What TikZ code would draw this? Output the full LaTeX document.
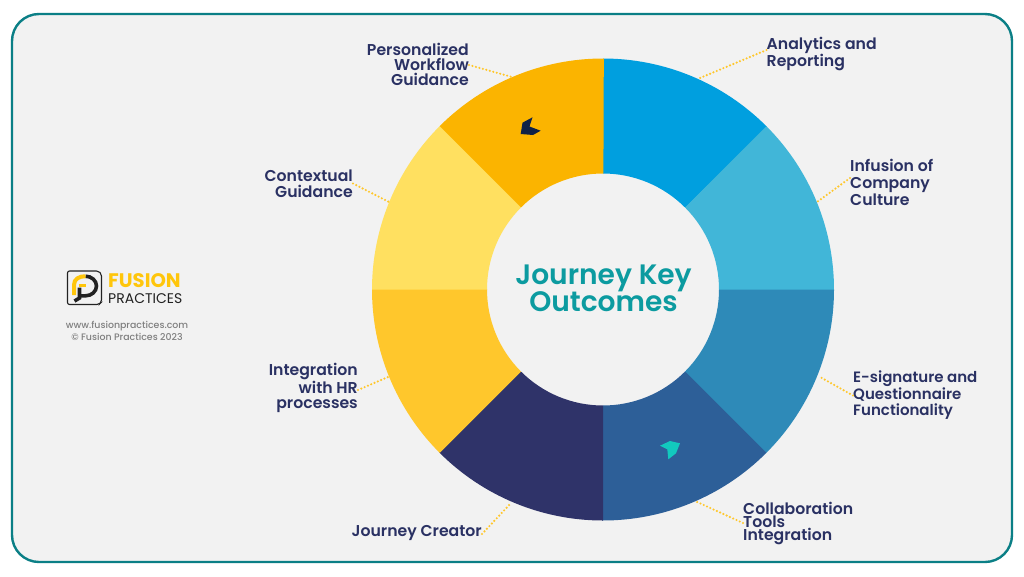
\documentclass[tikz,border=0pt]{standalone}
\usepackage{fontspec}
\setmainfont{Poppins}
\newfontfamily\popsemi{Poppins SemiBold}
\newfontfamily\popmed{Poppins Medium}
\newfontfamily\popbold{Poppins Bold}
\definecolor{frame}{HTML}{0B7F86}
\definecolor{panel}{HTML}{F2F2F2}
\definecolor{navy}{HTML}{2A3163}
\definecolor{dots}{HTML}{FFC72C}
\definecolor{sA}{HTML}{009FDF}
\definecolor{sB}{HTML}{41B6D8}
\definecolor{sC}{HTML}{2E8AB8}
\definecolor{sD}{HTML}{2D5F98}
\definecolor{sE}{HTML}{2F3369}
\definecolor{sF}{HTML}{FFC72C}
\definecolor{sG}{HTML}{FFE060}
\definecolor{sH}{HTML}{FBB400}
\definecolor{titlec}{HTML}{0C9BA0}
\definecolor{greytxt}{HTML}{7F7F7F}
\definecolor{logoy}{HTML}{FFC60B}
\definecolor{logok}{HTML}{222222}
\definecolor{chevnavy}{HTML}{0F2147}
\definecolor{chevteal}{HTML}{12C9BE}
\tikzset{
  lab/.style={text=navy,inner sep=0pt,font=\popsemi\fontsize{15.7}{#1}\selectfont},
  labL/.style={lab=#1,align=right,anchor=east},
  labR/.style={lab=#1,align=left,anchor=west},
  leader/.style={dots,line width=2.4pt,dash pattern=on 0pt off 3.6pt,line cap=round},
}
\newcommand{\wedgeseg}[2]{%
  \fill[#2] ({90-#1}:231) arc[start angle={90-#1},end angle={90-#1-45.2},radius=231]
   -- ({90-#1-45.2}:116) arc[start angle={90-#1-45.2},end angle={90-#1},radius=116] -- cycle;}
\begin{document}
\begin{tikzpicture}[x=1pt,y=-1pt]
\useasboundingbox (0,0) rectangle (1024,576);
\fill[white] (0,0) rectangle (1024,576);
\draw[frame,fill=panel,line width=2.4pt,rounded corners=27pt] (12,14) rectangle (1012,562);
% ring
\begin{scope}[shift={(603,289.5)},x=1pt,y=1pt]
\wedgeseg{0}{sA}
\wedgeseg{45}{sB}
\wedgeseg{90}{sC}
\wedgeseg{135}{sD}
\wedgeseg{180}{sE}
\wedgeseg{225}{sF}
\wedgeseg{270}{sG}
\wedgeseg{315}{sH}
\end{scope}
% direction marks
\fill[chevnavy] (532.5,117.3) -- (522.5,122.7) -- (520.7,134) -- (533,135) -- (540.7,130.7) -- (529.5,126.5) -- cycle;
\fill[chevteal] (660,445.7) -- (670,441) -- (680,443.3) -- (676,453.3) -- (668.3,459.3) -- (667.3,449.3) -- cycle;
% title
\node[text=titlec,inner sep=0pt,align=center,font=\popsemi\fontsize{28.1}{27.5}\selectfont] (title) at (603.5,288.5) {Journey Key\\Outcomes};
% labels
\node[labL=15] (perso) at (469,64.5) {Personalized\\Workflow\\Guidance};
\node[labR=17] (analytics) at (766.5,53.5) {Analytics and\\Reporting};
\node[labR=17] (infusion) at (850,182.5) {Infusion of\\Company\\Culture};
\node[labR=16.5,font=\popsemi\fontsize{15}{16.5}\selectfont] (esign) at (853,395.5) {E-signature and\\Questionnaire\\Functionality};
\node[labR=13] (collab) at (743,523) {Collaboration\\Tools\\Integration};
\node[labL=16] (creator) at (482,532.5) {Journey Creator};
\node[labL=15.5] (hr) at (358,388) {Integration\\with HR\\processes};
\node[labL=16] (context) at (353,183.5) {Contextual\\Guidance};
% leader ends on the ring
\coordinate (pP) at (512,77);
\coordinate (pA) at (700,78);
\coordinate (pI) at (817,202);
\coordinate (pE) at (820,377);
\coordinate (pC) at (695,501);
\coordinate (pJ) at (511,503);
\coordinate (pH) at (388,377);
\coordinate (pX) at (389,202);
\draw[leader] (perso.east |- 0,65) -- (pP);
\draw[leader] (analytics.west |- 0,50) -- (pA);
\draw[leader] (infusion.west |- 0,178) -- (pI);
\draw[leader] (esign.west) -- (pE);
\draw[leader] (collab.west) -- (pC);
\draw[leader] (creator.east |- 0,534) -- (pJ);
\draw[leader] (hr.east |- 0,390) -- (pH);
\draw[leader] (context.east) -- (pX);
% logo
\draw[logok,line width=1.1pt,rounded corners=2pt] (67.5,271) -- (98.5,271) -- (101.5,274) -- (101.5,302) -- (99,304.5) -- (67.5,304.5) -- cycle;
\draw[logok,line width=3.6pt] (79.5,287.5) -- (79.5,298) -- (74.5,301);
\begin{scope}[shift={(85.5,286)},x=1pt,y=1pt]
\draw[logok,line width=3.6pt] (0,9.8) arc[start angle=90,end angle=-90,x radius=11,y radius=9.8] -- (-6,-9.8);
\end{scope}
\draw[logoy,line width=4pt] (74,295) -- (74,285) .. controls (74,279) and (79,276.2) .. (85.5,276.2);
\draw[logoy,line width=3.4pt] (78.5,285.5) -- (86,285.5);
\node[text=logoy,inner sep=0pt,anchor=west,font=\popbold\fontsize{19.6}{20}\selectfont] (fusion) at (108,281) {FUSION};
\node[text=logok,inner sep=0pt,anchor=west,font=\fontsize{14}{14}\selectfont] (practices) at (108,299) {PRACTICES};
\node[text=greytxt,inner sep=0pt,align=center,font=\popmed\fontsize{9.4}{12.5}\selectfont] (web) at (127,331) {www.fusionpractices.com\\© Fusion Practices 2023};
\end{tikzpicture}
\end{document}
